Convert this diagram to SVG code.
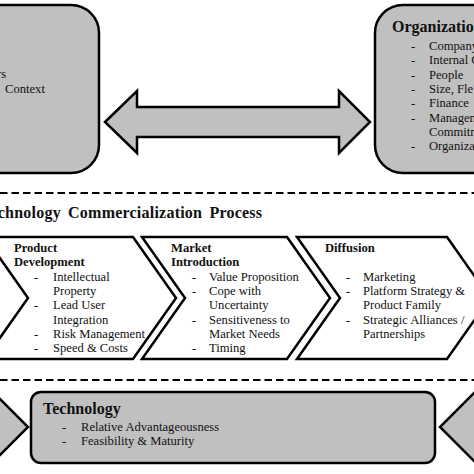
<svg xmlns="http://www.w3.org/2000/svg" width="474" height="474" viewBox="0 0 474 474">
<style>
.box{fill:#c0c0c0;stroke:#000;stroke-width:2.5}
.chev{fill:#fff;stroke:#000;stroke-width:2.5;stroke-linejoin:miter}
.dash{stroke:#000;stroke-width:2.2;stroke-dasharray:7.5 4}
text{font-family:"Liberation Serif","Times New Roman",serif;fill:#111}
.t{font-size:12.6px}
.h{font-size:12.6px;font-weight:bold}
.H{font-size:16px;font-weight:bold}
.title{font-size:16px;font-weight:bold;word-spacing:3px}
</style>
<rect width="474" height="474" fill="#fff"/>

<g id="connectors">
  <path class="box" d="M105,122 L137,91 L137,107 L339,107 L339,91 L370,122 L339,153 L339,137 L137,137 L137,153 Z"/>
  <path class="box" d="M-30,369 L28,427 L-30,485 Z"/>
  <path class="box" d="M500,367 L440,427 L500,487 Z"/>
</g>

<g id="separators">
  <line class="dash" x1="0" y1="193" x2="474" y2="193"/>
  <line class="dash" x1="0" y1="380" x2="474" y2="380"/>
</g>

<g id="environment">
  <rect class="box" x="-80" y="5" width="179" height="168" rx="28"/>
  <text class="t" x="-3" y="78">rs</text>
  <text class="t" x="5" y="93">Context</text>
</g>

<g id="organization">
  <rect class="box" x="375" y="5" width="160" height="168" rx="28"/>
  <text class="H" x="392" y="32">Organizatio</text>
  <g class="t">
    <text x="411" y="50">-</text><text x="429" y="50">Company</text>
    <text x="411" y="64.3">-</text><text x="429" y="64.3">Internal C</text>
    <text x="411" y="78.6">-</text><text x="429" y="78.6">People</text>
    <text x="411" y="92.9">-</text><text x="429" y="92.9">Size, Fle</text>
    <text x="411" y="107.2">-</text><text x="429" y="107.2">Finance</text>
    <text x="411" y="121.5">-</text><text x="429" y="121.5">Managem</text>
    <text x="429" y="135.8">Commitm</text>
    <text x="411" y="150">-</text><text x="429" y="150">Organiza</text>
  </g>
</g>

<text class="title" x="-19" y="218" textLength="281" lengthAdjust="spacing">Technology Commercialization Process</text>

<g id="product-development">
  <path class="chev" d="M-15,237 L133,237 L176,298 L133,359 L-15,359 L28,298 Z"/>
  <text class="h" x="14" y="252">Product</text>
  <text class="h" x="14" y="266.3">Development</text>
  <g class="t">
    <text x="34" y="280.6">-</text><text x="53" y="280.6">Intellectual</text>
    <text x="53" y="295">Property</text>
    <text x="34" y="309.3">-</text><text x="53" y="309.3">Lead User</text>
    <text x="53" y="323.6">Integration</text>
    <text x="34" y="338">-</text><text x="53" y="338">Risk Management</text>
    <text x="34" y="352.3">-</text><text x="53" y="352.3">Speed &amp; Costs</text>
  </g>
</g>

<g id="market-introduction">
  <path class="chev" d="M142,237 L287,237 L330,298 L287,359 L142,359 L185,298 Z"/>
  <text class="h" x="171" y="252">Market</text>
  <text class="h" x="171" y="266.3">Introduction</text>
  <g class="t">
    <text x="192" y="280.6">-</text><text x="209" y="280.6">Value Proposition</text>
    <text x="192" y="295">-</text><text x="209" y="295">Cope with</text>
    <text x="209" y="309.3">Uncertainty</text>
    <text x="192" y="323.6">-</text><text x="209" y="323.6">Sensitiveness to</text>
    <text x="209" y="338">Market Needs</text>
    <text x="192" y="352.3">-</text><text x="209" y="352.3">Timing</text>
  </g>
</g>

<g id="diffusion">
  <path class="chev" d="M297,237 L447,237 L490,298 L447,359 L297,359 L340,298 Z"/>
  <text class="h" x="325" y="252">Diffusion</text>
  <g class="t">
    <text x="346" y="280.6">-</text><text x="363" y="280.6">Marketing</text>
    <text x="346" y="295">-</text><text x="363" y="295">Platform Strategy &amp;</text>
    <text x="363" y="309.3">Product Family</text>
    <text x="346" y="323.6">-</text><text x="363" y="323.6">Strategic Alliances /</text>
    <text x="363" y="338">Partnerships</text>
  </g>
</g>

<g id="technology">
  <rect class="box" x="31" y="392" width="404" height="71" rx="10"/>
  <text class="H" x="43" y="414">Technology</text>
  <g class="t">
    <text x="62" y="431">-</text><text x="81" y="431">Relative Advantageousness</text>
    <text x="62" y="445">-</text><text x="81" y="445">Feasibility &amp; Maturity</text>
  </g>
</g>
</svg>
